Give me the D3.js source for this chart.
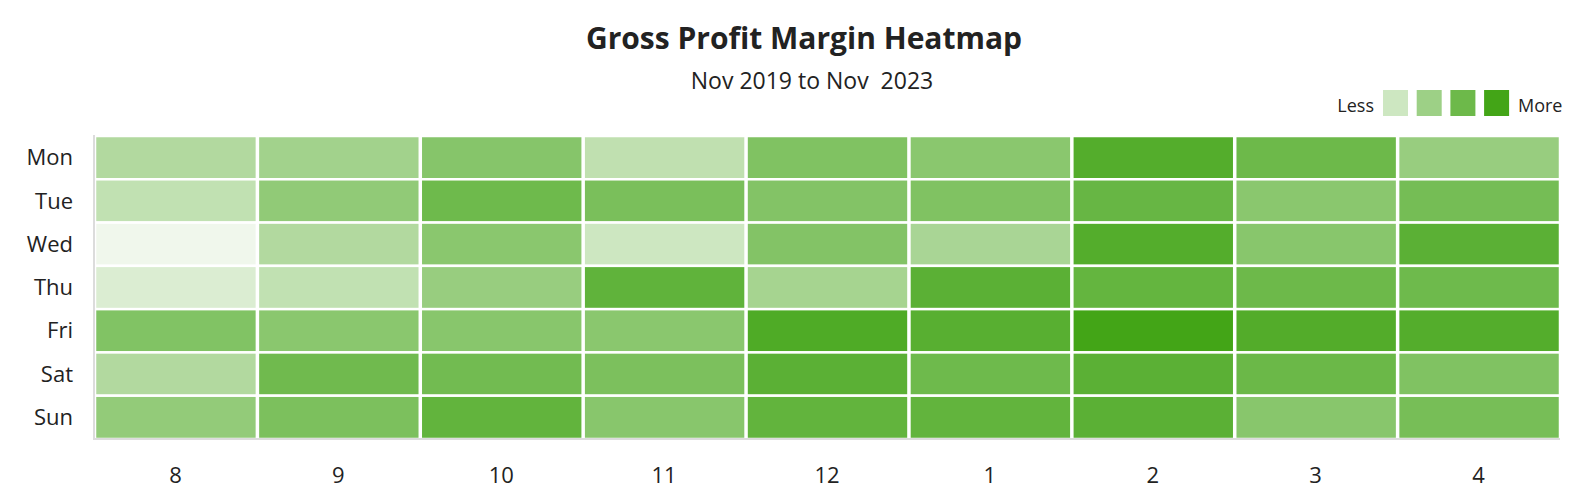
<!DOCTYPE html>
<html>
<head>
<meta charset="utf-8">
<script src="https://cdn.jsdelivr.net/npm/d3@7"></script>
<style>
  body { margin: 0; background: #fff; font-family: "Open Sans", sans-serif; }
  text { fill: #222; }
</style>
</head>
<body>
<svg id="chart" width="1588" height="503"></svg>
<script>
// months along the x axis, weekdays down the y axis
const months = ["8", "9", "10", "11", "12", "1", "2", "3", "4"];
const days = ["Mon", "Tue", "Wed", "Thu", "Fri", "Sat", "Sun"];

// margin score per cell, one array per month (Mon..Sun)
const m8  = [36, 27, 0, 12, 64, 36, 54];
const m9  = [45, 55, 36, 27, 59, 74, 67];
const m10 = [61, 75, 59, 51, 60, 73, 82];
const m11 = [28, 68, 20, 83, 59, 67, 60];
const m12 = [65, 63, 63, 43, 93, 86, 82];
const m1  = [59, 65, 41, 86, 88, 75, 82];
const m2  = [90, 79, 90, 81, 100, 86, 86];
const m3  = [76, 59, 60, 76, 91, 77, 60];
const m4  = [51, 71, 86, 75, 90, 65, 70];
const columns = [m8, m9, m10, m11, m12, m1, m2, m3, m4];

const legendSteps = [20, 48, 76, 100];

const cells = [];
columns.forEach((col, i) => {
    col.forEach((v, j) => cells.push({ month: months[i], day: days[j], value: v }));
});

const svg = d3.select("#chart");
const plotLeft = 94, plotRight = 1560, plotTop = 136, plotBottom = 439;

const x = d3.scaleBand().domain(months).range([plotLeft, plotRight]);
const y = d3.scaleBand().domain(days).range([plotTop, plotBottom]);
const color = d3.scaleLinear().domain([0, 100]).range(["#f0f7ec", "#43a517"]);

// title
svg.append("text")
    .attr("x", 804).attr("y", 49)
    .attr("text-anchor", "middle")
    .style("font-size", "30px").style("font-weight", "bold")
    .text("Gross Profit Margin Heatmap");

svg.append("text")
    .attr("x", 812).attr("y", 89)
    .attr("text-anchor", "middle")
    .style("font-size", "23px")
    .style("white-space", "pre")
    .text("Nov 2019 to Nov  2023");

// cells
svg.append("g")
    .selectAll("rect")
    .data(cells)
    .join("rect")
    .attr("x", d => x(d.month) + 1)
    .attr("y", d => y(d.day))
    .attr("width", x.bandwidth() - 1)
    .attr("height", y.bandwidth())
    .attr("fill", d => color(d.value))
    .attr("stroke", "#fff")
    .attr("stroke-width", 2.5);

// axis lines
svg.append("line")
    .attr("x1", plotLeft).attr("x2", plotLeft)
    .attr("y1", plotTop - 1).attr("y2", plotBottom + 1)
    .attr("stroke", "#dcdcdc").attr("stroke-width", 2);
svg.append("line")
    .attr("x1", plotLeft).attr("x2", plotRight)
    .attr("y1", plotBottom).attr("y2", plotBottom)
    .attr("stroke", "#dcdcdc").attr("stroke-width", 2);

// y labels
svg.append("g")
    .selectAll("text")
    .data(days)
    .join("text")
    .attr("x", 73)
    .attr("y", d => y(d) + y.bandwidth() / 2)
    .attr("dy", "0.35em")
    .attr("text-anchor", "end")
    .style("font-size", "22px")
    .text(d => d);

// x labels
svg.append("g")
    .selectAll("text")
    .data(months)
    .join("text")
    .attr("x", d => x(d) + x.bandwidth() / 2)
    .attr("y", 483)
    .attr("text-anchor", "middle")
    .style("font-size", "22px")
    .text(d => d);

// legend
const legend = svg.append("g");
legend.append("text")
    .attr("x", 1374).attr("y", 112)
    .attr("text-anchor", "end")
    .style("font-size", "18px")
    .text("Less");
legend.selectAll("rect")
    .data(legendSteps)
    .join("rect")
    .attr("x", (d, i) => 1383 + i * 33.7)
    .attr("y", 90)
    .attr("width", 25).attr("height", 26)
    .attr("fill", d => color(d));
legend.append("text")
    .attr("x", 1518).attr("y", 112)
    .style("font-size", "18px")
    .text("More");
</script>
</body>
</html>
